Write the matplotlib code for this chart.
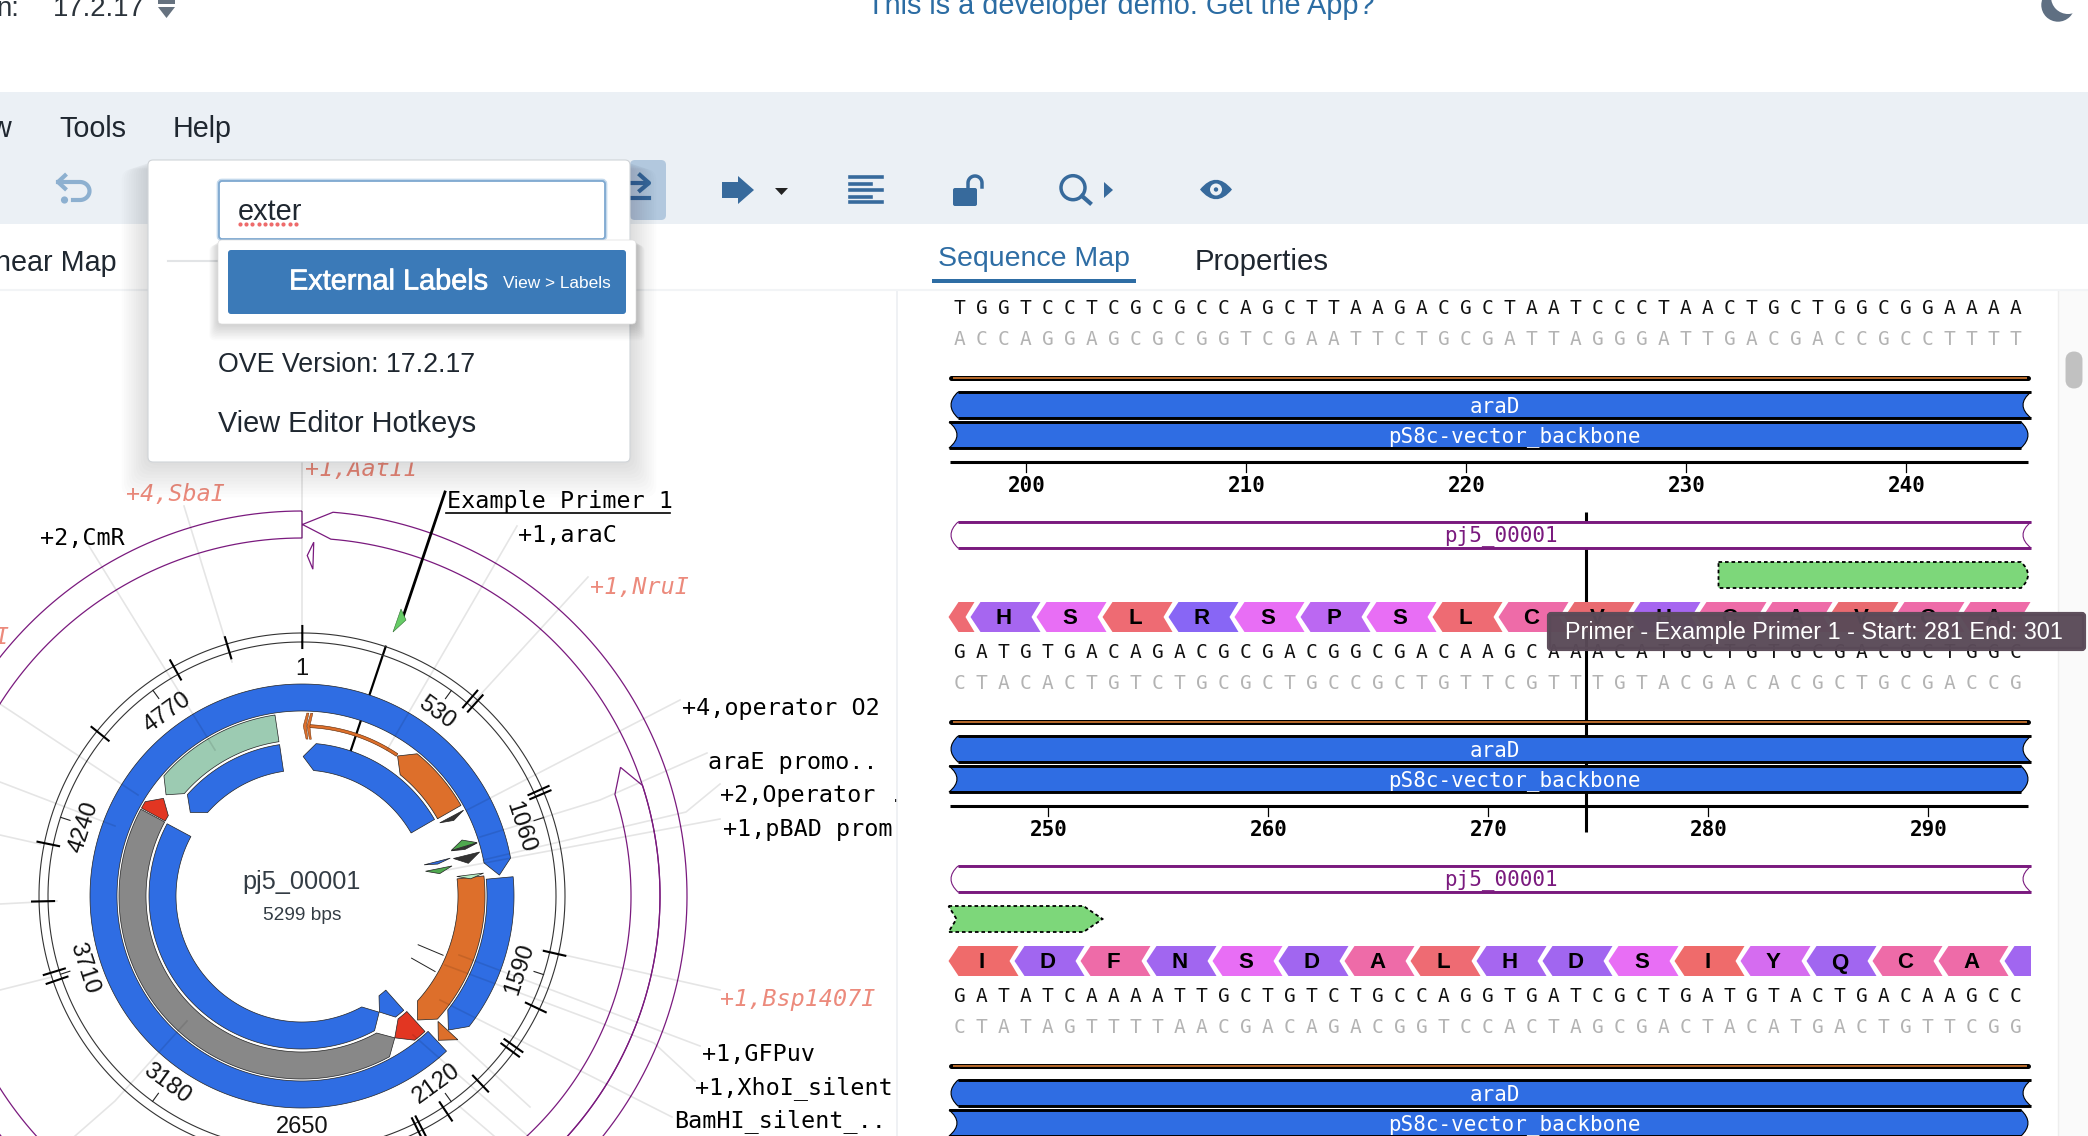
# -*- coding: utf-8 -*-
import numpy as np
import matplotlib
matplotlib.use("Agg")
import matplotlib.pyplot as plt
import matplotlib.patheffects as pe
from matplotlib.path import Path
from matplotlib.patches import Polygon, Rectangle, PathPatch, FancyBboxPatch, Circle

# plasmid
plasmid_name = "pj5_00001"
plasmid_len = 5299
tick_bps = [1, 530, 1060, 1590, 2120, 2650, 3180, 3710, 4240, 4770]
site_bps = [1, 5055, 4869, 4545, 4145, 3957, 3724, 3695, 596, 618, 971, 986,
            1513, 1700, 1844, 1862, 2008, 2153, 2248, 2262]
inner_site_bps = [1660, 1760]
primer_bp = 273

# features of the circular map, in bp
feat_ring = [0, 0, 0,
             1, 1, 1, 1, 1, 1, 1, 1, 1, 1, 1,
             2, 2, 2, 2, 2, 2]
feat_tail = [2017, 1248, 1953,
             888, 5174, 4397, 4391, 2028, 1232, 913, 1075, 1120, 1219, 1077,
             883, 5175, 4389, 2036, 1114, 1158]
feat_head = [6472, 1884, 1953,
             574, 4578, 4431, 2229, 2090, 1947, 913, 1075, 1120, 1219, 1077,
             78, 4585, 2233, 2095, 1114, 1158]
feat_tip = [6535, 1950, 2011,
            505, 4514, 4492, 2161, 2161, 2017, 935, 1041, 1161, 1239, 1090,
            7, 4516, 2155, 2153, 1130, 1189]
feat_color = ["#2f6de3", "#2f6de3", "#dd6f2b",
              "#dd6f2b", "#9ccbb2", "#e23622", "#888888", "#e23622", "#dd6f2b", "#333333",
              "#4fa84f", "#333333", "#b5ecc4", "#333333",
              "#2f6de3", "#2f6de3", "#2f6de3", "#2f6de3", "#2f6de3", "#4fa84f"]

# sequence rows
row_first_bp = [197, 246, 295]
row_top = ["TGGTCCTCGCGCCAGCTTAAGACGCTAATCCCTAACTGCTGGCGGAAAA",
           "GATGTGACAGACGCGACGGCGACAAGCAAACATGCTGTGCGACGCTGGC",
           "GATATCAAAATTGCTGTCTGCCAGGTGATCGCTGATGTACTGACAAGCC"]
row_bottom = ["ACCAGGAGCGCGGTCGAATTCTGCGATTAGGGATTGACGACCGCCTTTT",
              "CTACACTGTCTGCGCTGCCGCTGTTCGTTTGTACGACACGCTGCGACCG",
              "CTATAGTTTTAACGACAGACGGTCCACTAGCGACTACATGACTGTTCGG"]
row_ticks = [[200, 210, 220, 230, 240], [250, 260, 270, 280, 290], []]
row_amino = ["", "HSLRSPSLCVHCAVCA", "IDFNSDALHDSIYQCA"]
row_amino_start = [0, 1, 0]
primer_start = 281
primer_end = 301

amino_colors = {"H": "#a666f0", "S": "#e86ef5", "L": "#ee6b73", "R": "#8866f5", "P": "#bb68f2",
                "C": "#ee6ba8", "V": "#e96a70", "I": "#ef6b6b", "D": "#a166f0", "F": "#ee6ba8",
                "N": "#a166f0", "A": "#ee6ba8", "Y": "#d56cf0", "Q": "#a166f0"}

blue = "#2f6de3"
purple = "#7a1a7e"
salmon = "#ec8a7c"
icon = "#376a9c"
sans = "Liberation Sans"
mono = "DejaVu Sans Mono"

fig = plt.figure(figsize=(20.88, 11.36), dpi=100)
ax = fig.add_axes([0, 0, 1, 1])
ax.set_xlim(0, 2088)
ax.set_ylim(1136, 0)
ax.axis("off")

cx, cy = 302, 896
ring_out = [212, 183, 153]
ring_in = [185, 156, 126]


def pt(bp, r):
    a = np.asarray(bp) * 2 * np.pi / plasmid_len
    return cx + r * np.sin(a), cy - r * np.cos(a)


def arrow_poly(r0, r1, tail, head, tip, **kw):
    b = np.linspace(tail, head, 300)
    xo, yo = pt(b, r1)
    xi, yi = pt(b[::-1], r0)
    xt, yt = pt(tip, (r0 + r1) / 2)
    xs = np.r_[xo, xt, xi]
    ys = np.r_[yo, yt, yi]
    ax.add_patch(Polygon(np.c_[xs, ys], closed=True, **kw))


def txt(x, y, s, **kw):
    kw.setdefault("va", "center")
    kw.setdefault("ha", "left")
    kw.setdefault("zorder", 4)
    shift = 3.7 if kw.get("family") == mono else 5
    return ax.text(x, y + shift, s, **kw)


# circular map: primer line goes under the rings
xa, ya = pt(primer_bp, 263)
xb, yb = pt(primer_bp, 152)
ax.plot([xa, xb], [ya, yb], color="black", lw=1.6, zorder=1.5)

for r in [254, 263]:
    xs, ys = pt(np.linspace(0, plasmid_len, 720), r)
    ax.plot(xs, ys, color="#333333", lw=0.8, zorder=1.5)

for b in tick_bps[1:]:
    xs, ys = pt(np.array([b, b]), np.array([244, 254]))
    ax.plot(xs, ys, color="#222222", lw=0.8, zorder=1.5)
for b in site_bps:
    xs, ys = pt(np.array([b, b]), np.array([248, 270]))
    ax.plot(xs, ys, color="black", lw=1.5, zorder=1.5)
for b in inner_site_bps:
    xs, ys = pt(np.array([b, b]), np.array([126, 153]))
    ax.plot(xs, ys, color="#222222", lw=0.7, zorder=1.5)

for k in range(len(feat_tail)):
    n = feat_ring[k]
    arrow_poly(ring_in[n], ring_out[n], feat_tail[k], feat_head[k], feat_tip[k],
               fc=feat_color[k], ec="#222222", lw=0.5, zorder=2)

# thin orange feature with its double chevron
arrow_poly(168.5, 171.5, 500, 30, 30, fc="#dd6f2b", ec="#552200", lw=0.4, zorder=2)
for b in [6, 24]:
    xs, ys = pt(np.array([b + 16, b, b + 16, b + 26, b + 15, b + 26]),
                np.array([183, 170, 157, 157, 170, 183]))
    ax.add_patch(Polygon(np.c_[xs, ys], closed=True, fc="#dd6f2b", ec="#552200", lw=0.3, zorder=2))

# outer purple part rings
arrow_poly(358, 385, 5299, 68, 1, fc="none", ec=purple, lw=0.9, zorder=2)
arrow_poly(329, 358, 2500, 1060, 1001, fc="none", ec=purple, lw=0.9, zorder=2)
arrow_poly(327, 354, 28, 28, 13, fc="none", ec=purple, lw=0.9, zorder=2)

# leader lines to the external labels
leaders = [[(89, 546), (215, 750)], [(184, 506), (232, 662)], [(302, 440), (302, 626)],
           [(517, 526), (387, 750)], [(588, 577), (470, 706)], [(680, 700), (467, 810)],
           [(707, 753), (600, 800), (480, 837)], [(720, 784), (686, 812), (483, 860)],
           [(720, 819), (447, 870)], [(720, 990), (542, 950)], [(700, 1046), (459, 955)],
           [(695, 1081), (654, 1043), (445, 965)], [(672, 1117), (440, 1000)],
           [(413, 1035), (528, 1136)], [(459, 1106), (494, 1136)], [(457, 1040), (530, 1107)],
           [(0, 704), (138, 795)], [(0, 782), (115, 826)], [(0, 835), (40, 844)],
           [(0, 904), (57, 901)], [(0, 990), (52, 977)], [(187, 1021), (115, 1101), (75, 1136)]]
for seg in leaders:
    seg = np.array(seg)
    ax.plot(seg[:, 0], seg[:, 1], color="black", alpha=0.1, lw=1.2, zorder=3)

txt(cx, 877.5, plasmid_name, ha="center", family=sans, fontsize=18.2, color="#333c44")
txt(cx, 910.5, "%d bps" % plasmid_len, ha="center", family=sans, fontsize=13.8, color="#333c44")

for b in tick_bps:
    a = b * 360.0 / plasmid_len
    rot = -a if (a <= 90 or a >= 270) else 180 - a
    x, y = pt(b, 229)
    txt(x, y - 3, str(b), ha="center", rotation=rot, rotation_mode="anchor", family=sans,
        fontsize=17, color="#111111")

labels_black = [(40, 535, "+2,CmR"), (518, 532, "+1,araC"), (682, 705, "+4,operator O2"),
                (708, 759, "araE promo.."), (720, 792, "+2,Operator ."), (723, 826, "+1,pBAD prom."),
                (702, 1051, "+1,GFPuv"), (695, 1084, "+1,XhoI_silent"), (674, 1117, "BamHI_silent_..")]
labels_red = [(126, 491, "+4,SbaI"), (305, 466, "+1,AatII"), (590, 584, "+1,NruI"),
              (720, 996, "+1,Bsp1407I"), (-6, 634, "I")]
for x, y, s in labels_black:
    txt(x, y, s, family=mono, fontsize=16.8, color="black")
for x, y, s in labels_red:
    txt(x, y, s, family=mono, fontsize=16.8, color=salmon, style="italic")

# primer annotation
ax.plot([402, 445], [620, 492], color="black", lw=2, zorder=3)
ax.add_patch(Polygon([[393, 632], [401, 609], [406, 620]], closed=True, fc="#66cc66", ec="#2f6f2f", lw=0.4, zorder=3))
txt(447, 498, "Example Primer 1", family=mono, fontsize=16.8, color="black")
ax.plot([446, 670], [513, 513], color="black", lw=1.2, zorder=4)

# right part
ax.add_patch(Rectangle((897, 290), 1191, 846, fc="white", ec="none", zorder=5))
ax.plot([897, 897], [290, 1136], color="#eceff2", lw=1.2, zorder=5.1)
ax.add_patch(Rectangle((2058, 290), 30, 846, fc="#fafafa", ec="none", zorder=5.1))
ax.plot([2058, 2058], [290, 1136], color="#eeeeee", lw=1, zorder=5.1)
ax.add_patch(FancyBboxPatch((2069, 355), 10, 30, boxstyle="round,pad=0,rounding_size=5", fc="#c1c1c1", ec="#c1c1c1", lw=5, zorder=5.2))

left_edge = 948.5
bp_w = 22.0
row_step = 344


def base_x(row, bp):
    # left edge of the base in its row
    return left_edge + (bp - row_first_bp[row]) * bp_w


def strip_path(x0, x1, y0, y1, left, right):
    d = 8
    ym = (y0 + y1) / 2
    if left == "out":
        lc, lm = x0 + d, x0 - d + 2
    else:
        lc, lm = x0, x0 + 2 * d
    if right == "out":
        rc, rm = x1 - d, x1 + d - 2
    else:
        rc, rm = x1, x1 - 2 * d
    verts = [(lc, y0), (rc, y0), (rm, ym), (rc, y1), (lc, y1), (lm, ym), (lc, y0)]
    codes = [Path.MOVETO, Path.LINETO, Path.CURVE3, Path.CURVE3, Path.LINETO, Path.CURVE3, Path.CURVE3]
    return Path(verts, codes)


def strip(x0, x1, y0, y1, left, right, fc, ec, z=6.5):
    ax.add_patch(PathPatch(strip_path(x0, x1, y0, y1, left, right), fc=fc, ec=ec, lw=0.8, zorder=z))
    xa = x0 + (8 if left == "out" else 0)
    xb = x1 - (8 if right == "out" else 0)
    ax.plot([xa, xb], [y0, y0], color=ec, lw=2.1, zorder=z, solid_capstyle="butt")
    ax.plot([xa, xb], [y1, y1], color=ec, lw=2.1, zorder=z, solid_capstyle="butt")


def primer_patch(row_off, x0, x1, arrow=False):
    y0, y1 = 562 + row_off, 588 + row_off
    ym = (y0 + y1) / 2
    if arrow:
        pts = [(x0, y0), (x1 - 19, y0), (x1, ym), (x1 - 19, y1), (x0, y1), (x0 + 8, ym)]
        ax.add_patch(Polygon(pts, closed=True, fc="#7dd77a", ec="black", lw=1.3, ls=(0, (2, 1.6)), zorder=6.5))
    else:
        p = Path([(x0, y0), (x1 - 8, y0), (x1 + 6, ym), (x1 - 8, y1), (x0, y1), (x0, y0)],
                 [Path.MOVETO, Path.LINETO, Path.CURVE3, Path.CURVE3, Path.LINETO, Path.LINETO])
        ax.add_patch(PathPatch(p, fc="#7dd77a", ec="black", lw=1.3, ls=(0, (2, 1.6)), zorder=6.5))


# position cursor goes under the bars
ax.plot([1586, 1586], [512, 832], color="black", lw=2.2, zorder=6.2, solid_capstyle="butt")

right_end = 2029
for row in range(3):
    off = row * row_step
    for i, ch in enumerate(row_top[row]):
        x = left_edge + (i + 0.5) * bp_w
        txt(x, 305 + off, ch, ha="center", family=mono, fontsize=14, color="#111111", zorder=6.4)
        txt(x, 336 + off, row_bottom[row][i], ha="center", family=mono, fontsize=14, color="#b3b3b3", zorder=6.4)

    # orange feature thin strip
    y = 378 + off
    if y < 1136:
        ax.plot([951, right_end - 1], [y, y], color="black", lw=3.6, zorder=6.5, solid_capstyle="round")
        ax.plot([953, right_end - 2], [y, y], color="#b96a2c", lw=1.4, zorder=6.6, solid_capstyle="butt")

    strip(950, right_end + 2, 392 + off, 418 + off, "out", "in", blue, "black")
    strip(949, right_end, 422 + off, 448 + off, "in", "out", blue, "black")
    txt(1495, 403 + off, "araD", ha="center", family=mono, fontsize=15, color="white", zorder=6.8)
    txt(1514, 433 + off, "pS8c-vector_backbone", ha="center", family=mono, fontsize=15, color="white", zorder=6.8)

    if row < 2:
        ax.plot([950, right_end - 1], [462 + off, 462 + off], color="black", lw=2.2, zorder=6.5, solid_capstyle="butt")
        for t in row_ticks[row]:
            x = base_x(row, t) + bp_w / 2
            ax.plot([x, x], [462 + off, 472 + off], color="black", lw=0.9, zorder=6.5)
            txt(x + 1, 482 + off, str(t), ha="center", family=mono, fontsize=15, weight="bold", color="black", zorder=6.8)

        strip(950, right_end + 2, 522 + off, 548 + off, "out", "in", "white", purple)
        txt(1501, 532 + off, plasmid_name, ha="center", family=mono, fontsize=15, color=purple, zorder=6.8)

# primer pieces, it wraps from the second row to the third
primer_patch(0, base_x(1, primer_start), right_end)
primer_patch(row_step, left_edge, base_x(2, primer_end + 1), arrow=True)

# amino acids, drawn as left pointing chevrons
for row in [1, 2]:
    off = (row - 1) * row_step
    y0, y1 = 602 + off, 632 + off
    ym = (y0 + y1) / 2
    start = row_amino_start[row]
    if start == 1:
        ax.add_patch(Polygon([(left_edge, ym), (left_edge + 10, y0), (left_edge + 26, y0), (left_edge + 17, ym),
                              (left_edge + 26, y1), (left_edge + 10, y1)], closed=True, fc="#ee6b73", ec="none", zorder=6.4))
    for i, ch in enumerate(row_amino[row]):
        t = left_edge + (start + i * 3) * bp_w
        w = min(t + 70, right_end + 2)
        n = t + 61
        ax.add_patch(Polygon([(t, ym), (t + 10, y0), (w, y0), (n, ym), (w, y1), (t + 10, y1)],
                             closed=True, fc=amino_colors[ch], ec="none", zorder=6.4))
        txt(t + 33, ym - 3, ch, ha="center", family=sans, weight="bold", fontsize=16, color="black", zorder=6.45)
    if row == 2:
        t = left_edge + 48 * bp_w
        ax.add_patch(Polygon([(t, ym), (t + 10, y0), (right_end + 2, y0), (right_end + 2, y1), (t + 10, y1)],
                             closed=True, fc="#a166f0", ec="none", zorder=6.4))

# tooltip
ax.add_patch(FancyBboxPatch((1549, 614), 535, 35, boxstyle="round,pad=0,rounding_size=2", fc="#5a4a58", ec="#5a4a58", lw=3, alpha=0.97, zorder=9))
txt(1814, 627, "Primer - Example Primer 1 - Start: 281 End: 301", ha="center", family=sans, fontsize=16.8, color="white", zorder=9.5)

# top bar and tabs
ax.add_patch(Rectangle((0, 0), 2088, 92, fc="white", ec="none", zorder=5))
ax.add_patch(Rectangle((0, 92), 2088, 132, fc="#ebf0f5", ec="none", zorder=5))
ax.add_patch(Rectangle((0, 224), 2088, 66, fc="white", ec="none", zorder=5))
ax.plot([0, 2088], [290, 290], color="#f2f4f6", lw=1.5, zorder=5.1)

txt(-4, 3.5, "n:", family=sans, fontsize=19.8, color="#2b333b", zorder=6)
txt(53, 3.5, "17.2.17", family=sans, fontsize=19.8, color="#2b333b", zorder=6)
ax.add_patch(Polygon([(158, 7), (175, 7), (166.5, 18)], closed=True, fc="#66727f", ec="none", zorder=6))
ax.add_patch(Rectangle((158, 0), 17, 4, fc="#66727f", ec="none", zorder=6))
txt(1121, 1.5, "This is a developer demo. Get the App?", ha="center", family=sans, fontsize=20.8, color="#2b6ca3", zorder=6)
ax.add_patch(Circle((2058, 5), 16.7, fc="#5f6f82", ec="none", zorder=6))
ax.add_patch(Circle((2068, -3), 17, fc="white", ec="none", zorder=6.1))

txt(-10, 124, "w", family=sans, fontsize=20.7, color="#1f2730", zorder=6)
txt(59, 124, "Tools", family=sans, fontsize=20.7, color="#1f2730", zorder=6)
txt(173, 124, "Help", family=sans, fontsize=20.7, color="#1f2730", zorder=6)
txt(-5, 258, "near Map", family=sans, fontsize=20.7, color="#1f2730", zorder=6)
txt(938, 254, "Sequence Map", family=sans, fontsize=20.5, color="#2e6da4", zorder=6)
ax.add_patch(Rectangle((932, 279), 204, 4, fc="#2e6da4", ec="none", zorder=6))
txt(1195, 257, "Properties", family=sans, fontsize=21.2, color="#1f2730", zorder=6)

# toolbar icons
undo = "#8db0d0"
t = np.linspace(-np.pi / 2, np.pi / 2, 40)
undo_x = np.r_[58, 80, 80 + 9.5 * np.cos(t), 73]
undo_y = np.r_[182, 182, 191 + 9 * np.sin(t), 200]
ax.plot(undo_x, undo_y, color=undo, lw=3, zorder=6)
ax.plot([65, 58, 65], [175.5, 182, 188.5], color=undo, lw=3, zorder=6)
ax.add_patch(Circle((64.5, 200), 3.6, fc=undo, ec="none", zorder=6))

ax.add_patch(FancyBboxPatch((630, 160), 36, 60, boxstyle="round,pad=0,rounding_size=5", fc="#b2c8de", ec="none", zorder=6))
ax.plot([630, 648], [183, 183], color=icon, lw=3, zorder=6.1)
ax.plot([640, 649, 640], [175, 183, 190.5], color=icon, lw=3, zorder=6.1)
ax.plot([630, 649], [198, 198], color=icon, lw=3, zorder=6.1)
ax.add_patch(Polygon([(722, 182), (738, 182), (738, 176), (754, 190), (738, 204), (738, 198), (722, 198)], closed=True, fc=icon, ec="none", zorder=6))
ax.add_patch(Polygon([(775, 188), (788, 188), (781.5, 195)], closed=True, fc="#222222", ec="none", zorder=6))
for y, xe in zip([177, 183.5, 190, 196.5, 202], [882, 871, 882, 871, 882]):
    ax.plot([850, xe], [y, y], color=icon, lw=2.6, zorder=6)
ax.add_patch(FancyBboxPatch((953, 188), 24, 18, boxstyle="round,pad=0,rounding_size=2", fc=icon, ec="none", zorder=6))
t = np.linspace(np.pi, 2 * np.pi, 30)
ax.plot(np.r_[968, 975 + 7 * np.cos(t), 982], np.r_[188, 183 + 7 * np.sin(t), 187], color=icon, lw=2.5, zorder=6)
ax.add_patch(Circle((1073, 187.7), 12, fc="none", ec=icon, lw=2.5, zorder=6))
ax.plot([1082, 1090], [196, 203], color=icon, lw=3, zorder=6)
ax.add_patch(Polygon([(1104, 182), (1113, 190), (1104, 198)], closed=True, fc=icon, ec="none", zorder=6))
eye = Path([(1200, 189.5), (1216, 170), (1232, 189.5), (1216, 209), (1200, 189.5)],
           [Path.MOVETO, Path.CURVE3, Path.CURVE3, Path.CURVE3, Path.CURVE3])
ax.add_patch(PathPatch(eye, fc=icon, ec="none", zorder=6))
ax.add_patch(Circle((1216, 189.5), 6, fc="#ebf0f5", ec="none", zorder=6.1))
ax.add_patch(Circle((1216, 189.5), 2.2, fc=icon, ec="none", zorder=6.2))

# popup with its soft shadow
for s in range(44, 0, -4):
    ax.add_patch(FancyBboxPatch((148 - s * 0.6, 160 + s * 0.2), 482 + s * 1.2, 302 + s * 0.6, boxstyle="round,pad=0,rounding_size=12",
                                fc="black", ec="none", alpha=0.012, zorder=7))
ax.add_patch(FancyBboxPatch((148, 160), 482, 302, boxstyle="round,pad=0,rounding_size=5", fc="white", ec="#d0d4d8", lw=0.8, zorder=7.5))
ax.plot([168, 218], [261, 261], color="#e2e4e6", lw=1.5, zorder=7.6)

ax.add_patch(FancyBboxPatch((219, 181), 386, 58, boxstyle="round,pad=0,rounding_size=3", fc="white", ec="#c4d9ec", lw=3.4, zorder=8))
ax.add_patch(FancyBboxPatch((219, 181), 386, 58, boxstyle="round,pad=0,rounding_size=3", fc="white", ec="#7ea8d0", lw=1.3, zorder=8.05))
txt(238, 206.5, "exter", family=sans, fontsize=20.8, color="#1f2730", zorder=8.2)
dot_x = np.arange(240, 300, 6.2)
ax.scatter(dot_x, np.full(len(dot_x), 224), s=9, color="#ee6b6b", linewidths=0, zorder=8.2)

for s in range(22, 0, -2):
    ax.add_patch(FancyBboxPatch((218 - s * 0.4, 240 + s * 0.25), 418 + s * 0.8, 84 + s * 0.5, boxstyle="round,pad=0,rounding_size=6",
                                fc="black", ec="none", alpha=0.016, zorder=8.3))
ax.add_patch(FancyBboxPatch((218, 240), 418, 84, boxstyle="round,pad=0,rounding_size=4", fc="white", ec="#dddddd", lw=0.5, zorder=8.4))
ax.add_patch(FancyBboxPatch((228, 250), 398, 64, boxstyle="round,pad=0,rounding_size=3", fc="#3b7ab8", ec="none", zorder=8.5))
ext_label = txt(289, 276.5, "External Labels", family=sans, fontsize=20.8, color="white", zorder=8.6)
ext_label.set_path_effects([pe.withStroke(linewidth=0.5, foreground="white")])
txt(503, 279, "View > Labels", family=sans, fontsize=12.4, color="white", zorder=8.6)
txt(218, 360, "OVE Version: 17.2.17", family=sans, fontsize=19.3, color="#1f2730", zorder=8)
txt(218, 419, "View Editor Hotkeys", family=sans, fontsize=20.8, color="#1f2730", zorder=8)

fig.savefig("out.png", dpi=100)
